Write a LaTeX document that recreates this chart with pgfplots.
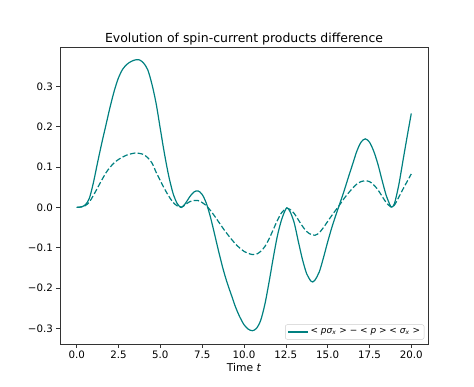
\documentclass[border=0pt]{standalone}
\usepackage{pgfplots}
\pgfplotsset{compat=1.18}
\usepackage{fontspec}
\setmainfont{DejaVu Sans}
\definecolor{tealc}{HTML}{008080}
\begin{document}
\begin{tikzpicture}[x=1bp,y=1bp]
\begin{axis}[
  name=ax,
  scale only axis, width=368bp, height=297bp,
  xmin=-1, xmax=21, ymin=-0.339, ymax=0.398,
  xtick={0,2.5,5,7.5,10,12.5,15,17.5,20},
  xticklabels={0.0,2.5,5.0,7.5,10.0,12.5,15.0,17.5,20.0},
  ytick={-0.3,-0.2,-0.1,0,0.1,0.2,0.3},
  yticklabels={−0.3,−0.2,−0.1,0.0,0.1,0.2,0.3},
  tick align=outside, major tick length=3.6bp,
  xtick pos=bottom, ytick pos=left,
  ticklabel style={font=\fontsize{10.3}{12}\selectfont},
  title={Evolution of spin-current products difference},
  title style={font=\fontsize{12.5}{14}\selectfont, yshift=-8bp},
  xlabel={Time \textit{t}},
  xlabel style={font=\fontsize{10.8}{12}\selectfont, yshift=2bp},
  axis line style={black!80, line width=0.6bp},
  tick style={black!80, line width=0.6bp},
  legend style={at={(0.99,0.015)}, anchor=south east, font=\fontsize{9}{11}\selectfont, draw=black!20, rounded corners=2bp, inner sep=2bp},
  legend cell align=left,
  legend image code/.code={\draw[#1, line width=1.2bp] (0bp,0bp) -- (20bp,0bp);},
]
\addplot[tealc, line width=1.2bp, smooth] coordinates {
(0.0,0.000) (0.25,0.001) (0.5,0.006) (0.75,0.022) (1.0,0.062) (1.25,0.112) (1.5,0.160) (1.75,0.205)
(2.0,0.250) (2.25,0.290) (2.5,0.322) (2.75,0.343) (3.0,0.355) (3.25,0.362) (3.5,0.366) (3.75,0.366)
(4.0,0.358) (4.25,0.341) (4.5,0.305) (4.75,0.257) (5.0,0.194) (5.25,0.132) (5.5,0.078) (5.75,0.036)
(6.0,0.010) (6.25,0.000) (6.5,0.010) (6.75,0.026) (7.0,0.038) (7.25,0.041) (7.5,0.032) (7.75,0.010)
(8.0,-0.025) (8.25,-0.068) (8.5,-0.112) (8.75,-0.153) (9.0,-0.188) (9.25,-0.218) (9.5,-0.248) (9.75,-0.272)
(10.0,-0.291) (10.25,-0.302) (10.5,-0.306) (10.75,-0.300) (11.0,-0.280) (11.25,-0.240) (11.5,-0.185) (11.75,-0.125)
(12.0,-0.070) (12.25,-0.030) (12.5,-0.004) (12.6,-0.002) (12.75,-0.010) (13.0,-0.038) (13.25,-0.085) (13.5,-0.130)
(13.75,-0.165) (14.0,-0.183) (14.1,-0.185) (14.25,-0.180) (14.5,-0.160) (14.75,-0.125) (15.0,-0.086) (15.25,-0.050)
(15.5,-0.018) (15.75,0.012) (16.0,0.043) (16.25,0.076) (16.5,0.108) (16.75,0.140) (17.0,0.162) (17.25,0.170)
(17.5,0.162) (17.75,0.140) (18.0,0.108) (18.25,0.068) (18.5,0.030) (18.75,0.004) (18.85,0.001) (19.0,0.010)
(19.25,0.055) (19.5,0.115) (19.75,0.175) (20.0,0.233)
};
\addlegendentry{< \textit{pσ}\textsubscript{\textit{x}} > − < \textit{p} > < \textit{σ}\textsubscript{\textit{x}} >}
\addplot[tealc, line width=1.2bp, dash pattern=on 5.5bp off 2.4bp, smooth, forget plot] coordinates {
(0.0,0.000) (0.25,0.001) (0.5,0.004) (0.75,0.013) (1.0,0.030) (1.25,0.049) (1.5,0.068) (1.75,0.086)
(2.0,0.100) (2.25,0.111) (2.5,0.119) (2.75,0.125) (3.0,0.130) (3.25,0.133) (3.5,0.135) (3.75,0.134)
(4.0,0.131) (4.25,0.123) (4.5,0.110) (4.75,0.087) (5.0,0.066) (5.25,0.046) (5.5,0.028) (5.75,0.013)
(6.0,0.004) (6.25,0.000) (6.5,0.007) (6.75,0.014) (7.0,0.017) (7.25,0.017) (7.5,0.012) (7.75,0.004)
(8.0,-0.008) (8.25,-0.022) (8.5,-0.037) (8.75,-0.052) (9.0,-0.066) (9.25,-0.079) (9.5,-0.091) (9.75,-0.101)
(10.0,-0.109) (10.25,-0.114) (10.5,-0.117) (10.75,-0.116) (11.0,-0.109) (11.25,-0.097) (11.5,-0.078) (11.75,-0.055)
(12.0,-0.032) (12.25,-0.013) (12.5,-0.003) (12.6,-0.002) (12.75,-0.005) (13.0,-0.015) (13.25,-0.031) (13.5,-0.047)
(13.75,-0.060) (14.0,-0.067) (14.25,-0.069) (14.5,-0.063) (14.75,-0.050) (15.0,-0.035) (15.25,-0.020) (15.5,-0.006)
(15.75,0.008) (16.0,0.023) (16.25,0.036) (16.5,0.048) (16.75,0.058) (17.0,0.064) (17.25,0.066) (17.5,0.064)
(17.75,0.056) (18.0,0.044) (18.25,0.028) (18.5,0.012) (18.75,0.002) (18.85,0.001) (19.0,0.006) (19.25,0.025)
(19.5,0.045) (19.75,0.064) (20.0,0.083)
};
\end{axis}
\path (ax.south west) ++(-60bp,-43bp) rectangle ([shift={(46bp,47bp)}]ax.north east);
\end{tikzpicture}
\end{document}
